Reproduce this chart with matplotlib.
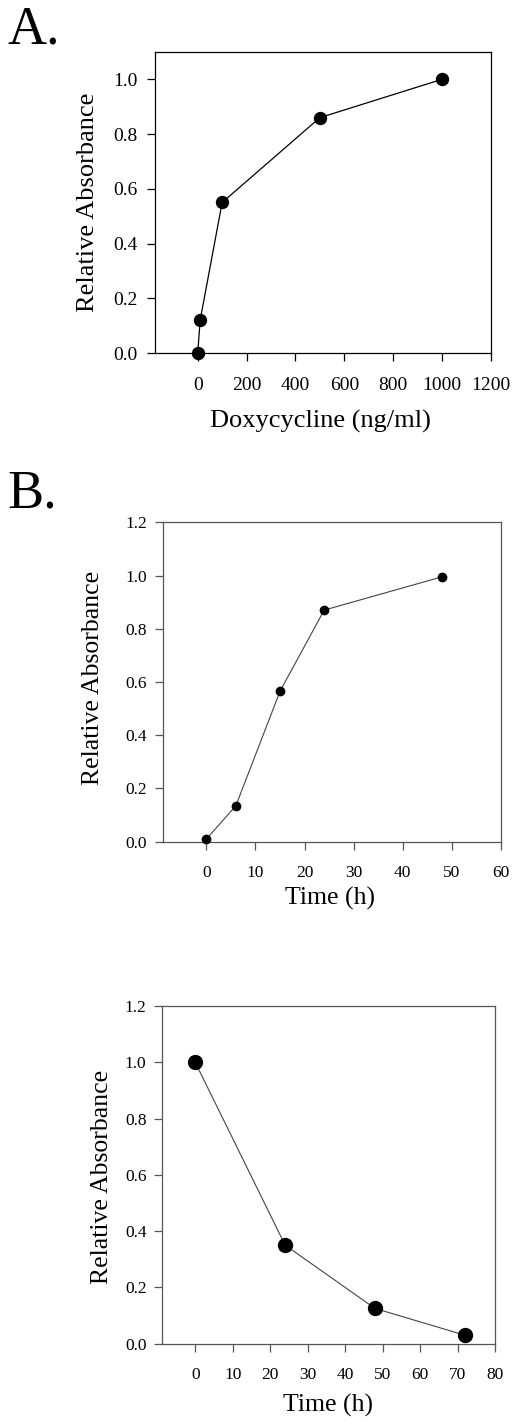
import matplotlib
matplotlib.use("Agg")
import matplotlib.pyplot as plt

plt.rcParams["font.family"] = ["Liberation Serif", "DejaVu Serif"]

# panel A: dose response
dox_ng_ml = [0, 10, 100, 500, 1000]
dox_abs = [0.0, 0.12, 0.55, 0.86, 1.0]
dox_ticks = [0, 200, 400, 600, 800, 1000, 1200]

# panel B: induction time course
on_time_h = [0, 6, 15, 24, 48]
on_abs = [0.01, 0.135, 0.565, 0.87, 0.995]
on_ticks = [0, 10, 20, 30, 40, 50, 60]

# panel B lower: decay after removal
off_time_h = [0, 24, 48, 72]
off_abs = [1.0, 0.35, 0.125, 0.03]
off_ticks = [0, 10, 20, 30, 40, 50, 60, 70, 80]


def style_axes(ax, spine_color, tick_size, xpad, ypad):
    for side in ("left", "right", "top", "bottom"):
        ax.spines[side].set_color(spine_color)
        ax.spines[side].set_linewidth(0.9)
    ax.tick_params(axis="both", direction="out", length=5.8, width=0.9,
                   color=spine_color, labelsize=tick_size, top=False, right=False)
    ax.tick_params(axis="x", pad=xpad)
    ax.tick_params(axis="y", pad=ypad)


fig = plt.figure(figsize=(5.2, 14.27), dpi=100)

# A
ax = fig.add_axes([0.298, 0.7526, 0.646, 0.211])
ax.plot(dox_ng_ml, dox_abs, color="black", linewidth=0.9, marker="o",
        markersize=8.6, markerfacecolor="black", markeredgecolor="black",
        clip_on=False, zorder=3)
ax.set_xlim(-175, 1200)
ax.set_ylim(0, 1.1)
ax.set_xticks(dox_ticks)
ax.set_yticks([0.0, 0.2, 0.4, 0.6, 0.8, 1.0])
ax.set_yticklabels([f"{v:.1f}" for v in [0.0, 0.2, 0.4, 0.6, 0.8, 1.0]])
style_axes(ax, "black", 14, 11.5, 7)
ax.set_xlabel("Doxycycline (ng/ml)", fontsize=19)
ax.set_ylabel("Relative Absorbance", fontsize=19)
ax.xaxis.set_label_coords(0.493, -0.228)
ax.xaxis.label.set_va("center")
ax.yaxis.set_label_coords(-0.199, 0.5)
ax.yaxis.label.set_va("center")

# B top
ax = fig.add_axes([0.314, 0.4102, 0.649, 0.2238])
ax.plot(on_time_h, on_abs, color="#444444", linewidth=0.8, marker="o",
        markersize=6, markerfacecolor="black", markeredgecolor="black",
        clip_on=False, zorder=3)
ax.set_xlim(-8.8, 60)
ax.set_ylim(0, 1.2)
ax.set_xticks(on_ticks)
ax.set_yticks([0.0, 0.2, 0.4, 0.6, 0.8, 1.0, 1.2])
ax.set_yticklabels([f"{v:.1f}" for v in [0.0, 0.2, 0.4, 0.6, 0.8, 1.0, 1.2]])
style_axes(ax, "#555555", 12.5, 11, 6)
ax.set_xlabel("Time (h)", fontsize=18.5)
ax.set_ylabel("Relative Absorbance", fontsize=18.5)
ax.xaxis.set_label_coords(0.494, -0.179)
ax.xaxis.label.set_va("center")
ax.yaxis.set_label_coords(-0.208, 0.514)
ax.yaxis.label.set_va("center")

# B bottom
ax = fig.add_axes([0.312, 0.0584, 0.640, 0.2366])
ax.plot(off_time_h, off_abs, color="#444444", linewidth=0.8, marker="o",
        markersize=10, markerfacecolor="black", markeredgecolor="black",
        clip_on=False, zorder=3)
ax.set_xlim(-8.8, 80)
ax.set_ylim(0, 1.2)
ax.set_xticks(off_ticks)
ax.set_yticks([0.0, 0.2, 0.4, 0.6, 0.8, 1.0, 1.2])
ax.set_yticklabels([f"{v:.1f}" for v in [0.0, 0.2, 0.4, 0.6, 0.8, 1.0, 1.2]])
style_axes(ax, "#555555", 12.5, 11, 5.5)
ax.set_xlabel("Time (h)", fontsize=18.5)
ax.set_ylabel("Relative Absorbance", fontsize=18.5)
ax.xaxis.set_label_coords(0.497, -0.182)
ax.xaxis.label.set_va("center")
ax.yaxis.set_label_coords(-0.182, 0.494)
ax.yaxis.label.set_va("center")

fig.text(8 / 520, 1 - 43 / 1427, "A.", fontsize=39, va="baseline", ha="left")
fig.text(7 / 520, 1 - 508 / 1427, "B.", fontsize=39, va="baseline", ha="left")

fig.savefig("out.png", dpi=100)
